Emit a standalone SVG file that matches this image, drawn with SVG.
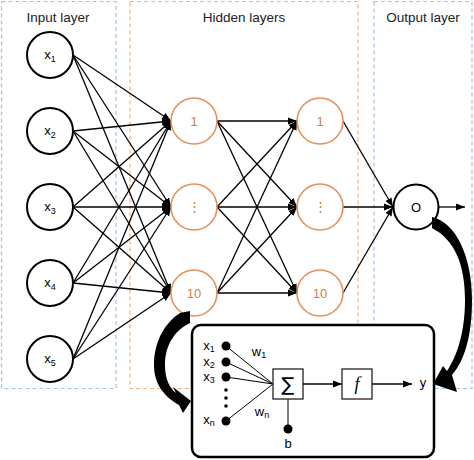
<svg xmlns="http://www.w3.org/2000/svg" width="474" height="460" viewBox="0 0 474 460">
<defs>
<marker id="ah" markerUnits="userSpaceOnUse" markerWidth="10" markerHeight="8" refX="9" refY="4" orient="auto">
<path d="M0,0.5 L9,4 L0,7.5 Z" fill="#000"/>
</marker>
<style>
.lay{fill:none;stroke-width:1.2;stroke-dasharray:4 3}
.blue{stroke:#9DC3E6}
.org{stroke:#F4B183}
.ttl{font-family:"Liberation Sans",Arial,sans-serif;font-size:13.5px;fill:#222;text-anchor:middle}
.nin{fill:#fff;stroke:#000;stroke-width:2}
.nh{fill:#fff;stroke:#E2925A;stroke-width:1.6}
.lbl{font-family:"Liberation Sans",Arial,sans-serif;font-size:13px;fill:#000;text-anchor:middle}
.hl{font-family:"Liberation Sans",Arial,sans-serif;font-size:13px;fill:#D0803F;text-anchor:middle}
.sub{font-size:9px}
.c{stroke:#000;stroke-width:1.3;fill:none;marker-end:url(#ah)}
.w{stroke:#000;stroke-width:1;fill:none}
.box{fill:#fff;stroke:#333;stroke-width:1.4}
</style>
</defs>
<rect width="474" height="460" fill="#fff"/>
<g id="layers">
<rect class="lay blue" x="1.5" y="1.5" width="114.5" height="387"/>
<rect class="lay org" x="130" y="1.5" width="228" height="387"/>
<rect class="lay blue" x="374" y="1.5" width="98" height="387"/>
<text class="ttl" x="58" y="22">Input layer</text>
<text class="ttl" x="244" y="22">Hidden layers</text>
<text class="ttl" x="423" y="22">Output layer</text>
</g>
<g id="connectors">
<line class="c" x1="73" y1="55" x2="171" y2="121"/>
<line class="c" x1="73" y1="55" x2="171" y2="207"/>
<line class="c" x1="73" y1="55" x2="171" y2="293"/>
<line class="c" x1="73" y1="131" x2="171" y2="121"/>
<line class="c" x1="73" y1="131" x2="171" y2="207"/>
<line class="c" x1="73" y1="131" x2="171" y2="293"/>
<line class="c" x1="73" y1="207" x2="171" y2="121"/>
<line class="c" x1="73" y1="207" x2="171" y2="207"/>
<line class="c" x1="73" y1="207" x2="171" y2="293"/>
<line class="c" x1="73" y1="283" x2="171" y2="121"/>
<line class="c" x1="73" y1="283" x2="171" y2="207"/>
<line class="c" x1="73" y1="283" x2="171" y2="293"/>
<line class="c" x1="73" y1="359" x2="171" y2="121"/>
<line class="c" x1="73" y1="359" x2="171" y2="207"/>
<line class="c" x1="73" y1="359" x2="171" y2="293"/>
<line class="c" x1="217" y1="121" x2="297" y2="121"/>
<line class="c" x1="217" y1="121" x2="297" y2="207"/>
<line class="c" x1="217" y1="121" x2="297" y2="293"/>
<line class="c" x1="217" y1="207" x2="297" y2="121"/>
<line class="c" x1="217" y1="207" x2="297" y2="207"/>
<line class="c" x1="217" y1="207" x2="297" y2="293"/>
<line class="c" x1="217" y1="293" x2="297" y2="121"/>
<line class="c" x1="217" y1="293" x2="297" y2="207"/>
<line class="c" x1="217" y1="293" x2="297" y2="293"/>
<line class="c" x1="343" y1="121" x2="393" y2="207"/>
<line class="c" x1="343" y1="207" x2="393" y2="207"/>
<line class="c" x1="343" y1="293" x2="393" y2="207"/>
<line class="c" x1="439" y1="207" x2="465" y2="207"/>
</g>
<g id="x1"><circle class="nin" cx="50" cy="55" r="23"/><text class="lbl" x="50" y="59">x<tspan class="sub" dy="3">1</tspan></text></g>
<g id="x2"><circle class="nin" cx="50" cy="131" r="23"/><text class="lbl" x="50" y="135">x<tspan class="sub" dy="3">2</tspan></text></g>
<g id="x3"><circle class="nin" cx="50" cy="207" r="23"/><text class="lbl" x="50" y="211">x<tspan class="sub" dy="3">3</tspan></text></g>
<g id="x4"><circle class="nin" cx="50" cy="283" r="23"/><text class="lbl" x="50" y="287">x<tspan class="sub" dy="3">4</tspan></text></g>
<g id="x5"><circle class="nin" cx="50" cy="359" r="23"/><text class="lbl" x="50" y="363">x<tspan class="sub" dy="3">5</tspan></text></g>
<g id="h1a"><circle class="nh" cx="194" cy="121" r="23"/><text class="hl" x="194" y="126">1</text></g>
<g id="h1b"><circle class="nh" cx="194" cy="207" r="23"/><text class="hl" x="194" y="211" font-size="10">⋮</text></g>
<g id="h1c"><circle class="nh" cx="194" cy="293" r="23"/><text class="hl" x="194" y="298">10</text></g>
<g id="h2a"><circle class="nh" cx="320" cy="121" r="23"/><text class="hl" x="320" y="126">1</text></g>
<g id="h2b"><circle class="nh" cx="320" cy="207" r="23"/><text class="hl" x="320" y="211" font-size="10">⋮</text></g>
<g id="h2c"><circle class="nh" cx="320" cy="293" r="23"/><text class="hl" x="320" y="298">10</text></g>
<g id="out"><circle class="nin" cx="416" cy="207" r="22.5"/><text class="lbl" x="416" y="212">O</text></g>
<g id="neuron">
<rect x="192" y="325" width="242" height="132" rx="9" fill="#fff" stroke="#000" stroke-width="2.5"/>
<line class="w" x1="226" y1="346" x2="273" y2="384"/>
<line class="w" x1="226" y1="362" x2="273" y2="384"/>
<line class="w" x1="226" y1="377" x2="273" y2="384"/>
<line class="w" x1="226" y1="421" x2="273" y2="384"/>
<line class="w" x1="288" y1="399" x2="288" y2="429"/>
<circle cx="226" cy="346" r="4.5"/>
<circle cx="226" cy="362" r="4.5"/>
<circle cx="226" cy="377" r="4.5"/>
<circle cx="226" cy="421" r="4.5"/>
<circle cx="226" cy="390" r="1.8"/>
<circle cx="226" cy="398" r="1.8"/>
<circle cx="226" cy="406" r="1.8"/>
<circle cx="288" cy="429" r="4.5"/>
<text class="lbl" x="209" y="350">x<tspan class="sub" dy="2">1</tspan></text>
<text class="lbl" x="209" y="366">x<tspan class="sub" dy="2">2</tspan></text>
<text class="lbl" x="209" y="381">x<tspan class="sub" dy="2">3</tspan></text>
<text class="lbl" x="209" y="424">x<tspan class="sub" dy="2">n</tspan></text>
<text class="lbl" x="259" y="356">w<tspan class="sub" dy="2">1</tspan></text>
<text class="lbl" x="262" y="416">w<tspan class="sub" dy="2">n</tspan></text>
<rect class="box" x="273" y="369" width="30" height="30"/>
<text x="288" y="391" font-family="DejaVu Sans,sans-serif" font-size="19" text-anchor="middle">∑</text>
<line class="c" stroke-width="1" x1="303" y1="384" x2="342" y2="384"/>
<rect class="box" x="342" y="369" width="30" height="30"/>
<text x="357" y="390" font-family="Liberation Serif,serif" font-style="italic" font-size="18" text-anchor="middle">f</text>
<line class="c" stroke-width="1" x1="372" y1="384" x2="412" y2="384"/>
<text class="lbl" x="423" y="387" font-size="14">y</text>
<text class="lbl" x="288" y="448">b</text>
</g>
<g id="curved-arrows" fill="#000">
<path d="M180,313 L190,311 L190,323 C175,330 165,345 165,365 C165,380 170,388 176,393 L173,387 L191,401 L183,413 L179,405 C165,397 154,385 154,365 C154,345 162,325 180,313 Z"/>
<path d="M432,217 C455,222 472,255 472,300 C472,335 465,360 452,375 L457,392 L433,384 L443,366 L447,371 C458,355 465,330 465,300 C465,265 455,240 432,228 Z"/>
</g>
</svg>
